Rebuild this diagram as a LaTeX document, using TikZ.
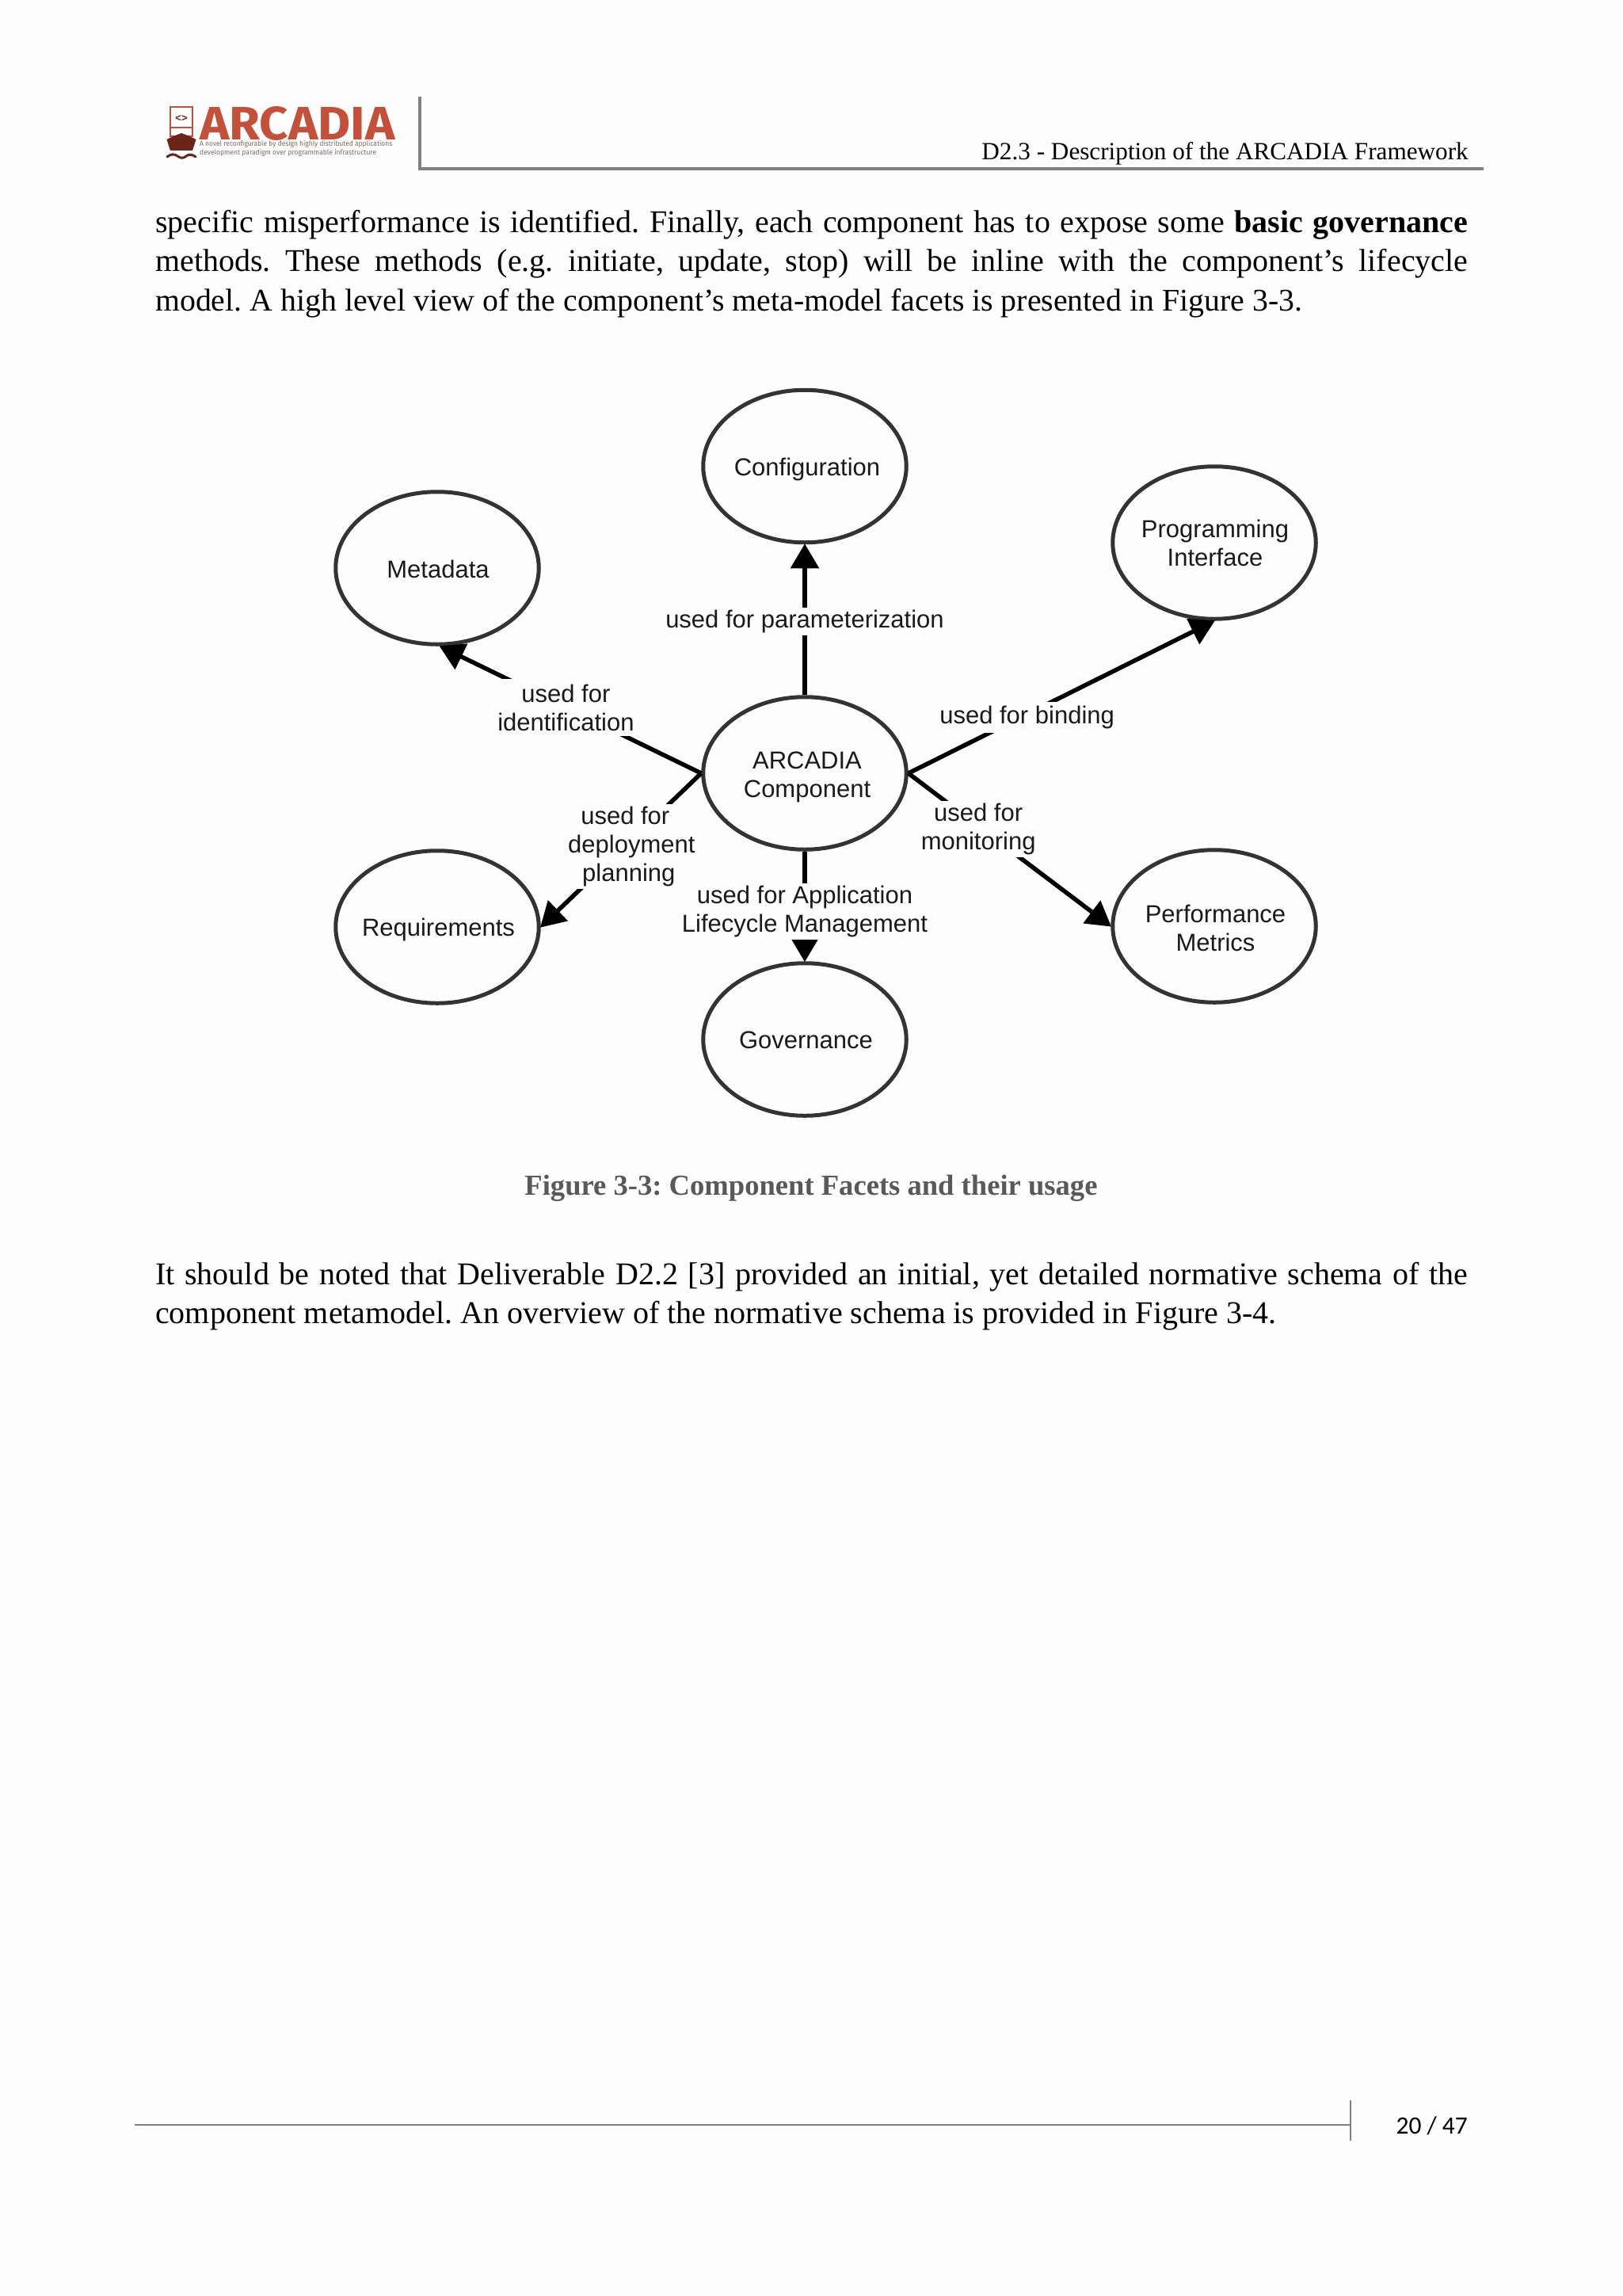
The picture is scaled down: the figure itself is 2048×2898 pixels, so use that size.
\documentclass[tikz,border=0pt]{standalone}
\usepackage{fontspec}
\setmainfont{Liberation Serif}
\newfontfamily\figfont{Liberation Sans}
\newfontfamily\pagenofont{Carlito}
\newfontfamily\logofont{Fira Sans}
\usetikzlibrary{arrows.meta,shapes.geometric}
\definecolor{pagebg}{HTML}{FDFDFD}
\definecolor{rulegrey}{HTML}{808080}
\definecolor{capgrey}{HTML}{595959}
\definecolor{edgeink}{HTML}{333333}
\definecolor{textink}{HTML}{1A1A1A}
\definecolor{logored}{HTML}{C4503A}
\definecolor{logodark}{HTML}{6E2318}
\definecolor{logotext}{HTML}{7D6C68}
\tikzset{
  facet/.style={draw=edgeink,line width=5pt,ellipse,minimum width=256.5pt,minimum height=192.5pt,inner sep=0pt,
    font=\figfont\fontsize{31}{36}\selectfont,text=textink},
  link/.style={line width=5.5pt,draw=black,-{Triangle[length=31pt,width=35pt]},shorten >=-1pt},
  linklabel/.style={fill=pagebg,inner xsep=2pt,inner ysep=3pt,font=\figfont\fontsize{31}{36}\selectfont,text=textink,align=center},
  bodyline/.style={anchor=base west,inner sep=0pt,font=\fontsize{40}{49}\selectfont,text=black},
  pagerule/.style={draw=rulegrey}
}
\newcommand{\justline}[1]{\hbox to 1657pt{#1}}
% text inside an ellipse, taking no room, so that all ellipses keep one size
\newcommand{\ftext}[3]{\kern#1pt\makebox[0pt]{\smash{\raisebox{#2pt}{\begin{tabular}{@{}c@{}}#3\end{tabular}}}}\kern-#1pt}
\begin{document}
\frenchspacing
\begin{tikzpicture}[x=1pt,y=-1pt]
\path[fill=pagebg] (0,0) rectangle (2048,2898);
\useasboundingbox (0,0) rectangle (2048,2898);
% header
\coordinate (hv1) at (530,122);
\coordinate (hv2) at (530,213);
\coordinate (hr) at (1873,213);
\draw[pagerule,line width=3.5pt] (hv1) -- (hv2) -- (hr);
\node[anchor=base east,inner sep=0pt,font=\fontsize{31.2}{40}\selectfont] (headtitle) at (1854,201) {D2.3 - Description of the ARCADIA Framework};
% logo
\draw[logored,line width=2.6pt] (215,135) rectangle (243,172);
\draw[logored,line width=2.6pt] (215,161) -- (243,161);
\node[inner sep=0pt,font=\figfont\bfseries\fontsize{13}{13}\selectfont,text=logodark] (logocode) at (229,150) {<>};
\fill[logodark] (210.5,176) -- (219,172) -- (229,168) -- (239,172) -- (247.5,176) -- (243,190) -- (215,190) -- cycle;
\draw[logodark,line width=3pt,line cap=round] (211,198) .. controls (216,194) and (220,194) .. (224,197) .. controls (228,200) and (232,200) .. (235,197) .. controls (239,194) and (243,195) .. (247,198);
\node[anchor=north west,inner sep=0pt,text=logored] (logoword) at (252,134.5) {\resizebox{246pt}{42pt}{\logofont\bfseries ARCADIA}};
\node[anchor=base west,inner sep=0pt,text=logotext] (logotag1) at (252,185) {\resizebox{243pt}{7pt}{\logofont A novel reconfigurable by design highly distributed applications}};
\node[anchor=base west,inner sep=0pt,text=logotext] (logotag2) at (252,195.5) {\resizebox{223pt}{7pt}{\logofont development paradigm over programmable infrastructure}};
% first paragraph
\node[bodyline] (p1) at (196,293) {\justline{specific misperformance is identified. Finally, each component has to expose some \textbf{basic governance}}};
\node[bodyline] (p2) at (196,342.5) {\justline{methods. These methods (e.g. initiate, update, stop) will be inline with the component’s lifecycle}};
\node[bodyline] (p3) at (196,392) {\fontsize{39.8}{49}\selectfont model. A high level view of the component’s meta-model facets is presented in Figure 3-3.};
% diagram
\node[facet] (arc) at (1016,976) {\ftext{3}{-12}{ARCADIA\\Component}};
\node[facet] (conf) at (1016,588.5) {\ftext{3}{-11}{Configuration}};
\node[facet] (meta) at (552,717) {\ftext{1}{-12}{Metadata}};
\node[facet] (prog) at (1533,685) {\ftext{1}{-11}{Programming\\Interface}};
\node[facet] (req) at (552,1170) {\ftext{1.5}{-11}{Requirements}};
\node[facet] (perf) at (1533,1169) {\ftext{1.5}{-12.5}{Performance\\Metrics}};
\node[facet] (gov) at (1016,1312) {\ftext{1.5}{-11}{Governance}};
\draw[link] (arc.90) -- node[linklabel,pos=.487] (lconf) {used for parameterization} (conf.270);
\draw[link] (arc.180) -- node[linklabel,pos=.518,inner ysep=7pt] (lmeta) {used for\\identification} (meta.272);
\draw[link] (arc.0) -- node[linklabel,pos=.388,yshift=-4pt,inner ysep=5pt] (lprog) {used for binding} (prog.270);
\draw[link] (arc.0) -- node[linklabel,pos=.346,yshift=-4pt] (lperf) {used for\\monitoring} (perf.180);
\draw[link] (arc.180) -- node[linklabel,pos=.449,yshift=-5pt,xshift=3pt] (lreq) {used for\kern16pt\\deployment\\planning\kern7pt} (req.0);
\draw[link] (arc.270) -- node[linklabel,pos=.525,yshift=-3pt] (lgov) {used for Application\\Lifecycle Management} (gov.90);
% caption
\node[anchor=base,inner sep=0pt,text=capgrey,font=\bfseries\fontsize{36.6}{44}\selectfont] (cap) at (1024,1508) {Figure 3-3: Component Facets and their usage};
% second paragraph
\node[bodyline] (q1) at (196,1621) {\justline{It should be noted that Deliverable D2.2 [3] provided an initial, yet detailed normative schema of the}};
\node[bodyline] (q2) at (196,1670) {component metamodel. An overview of the normative schema is provided in Figure 3-4.};
% footer
\coordinate (fl) at (170,2682);
\coordinate (fr) at (1705,2682);
\coordinate (fv1) at (1705,2651);
\coordinate (fv2) at (1705,2702);
\draw[pagerule,line width=1.8pt] (fl) -- (fr);
\draw[pagerule,line width=1.8pt] (fv1) -- (fv2);
\node[anchor=base east,inner sep=0pt,font=\pagenofont\fontsize{31.5}{40}\selectfont] (pageno) at (1853,2693) {20 / 47};
\end{tikzpicture}
\end{document}
